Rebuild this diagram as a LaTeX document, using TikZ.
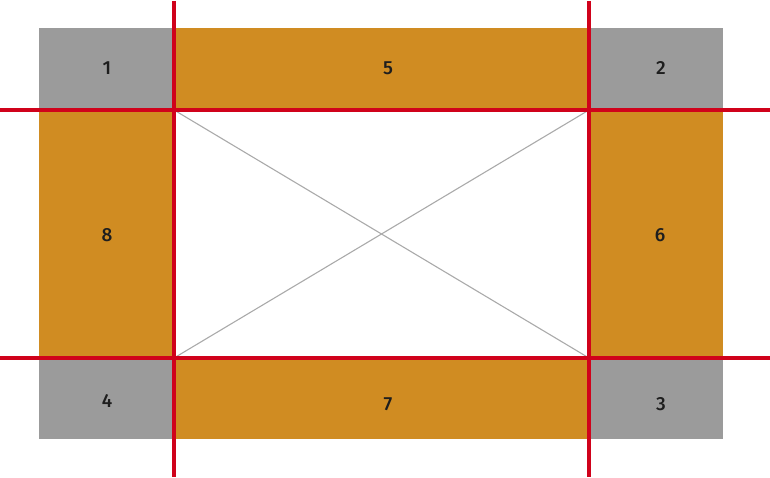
\documentclass[tikz,border=0pt]{standalone}
\usepackage{fontspec}
\setmainfont{Fira Sans}[UprightFont={* Medium}]
\definecolor{cgray}{HTML}{9B9B9B}
\definecolor{corange}{HTML}{D08C22}
\definecolor{cred}{HTML}{D0021B}
\definecolor{cdiag}{HTML}{AAAAAA}
\definecolor{ctext}{HTML}{1E1E1E}
\begin{document}
\begin{tikzpicture}[x=1pt,y=-1pt,
  cell/.style={draw=none,inner sep=0pt,outer sep=0pt,font=\fontsize{19}{19}\selectfont,text=ctext},
  corner/.style={cell,fill=cgray},
  side/.style={cell,fill=corange},
  redline/.style={draw=cred,line width=3.4pt},
  diag/.style={draw=cdiag,line width=1.1pt}]
\useasboundingbox (0,0) rectangle (770,478);
% cells
\path[corner] (38.5,28.5) rectangle (174,110);
\path[side] (174,28.5) rectangle (589,110);
\path[corner] (589,28.5) rectangle (723,110);
\path[side] (38.5,110) rectangle (174,358);
\path[side] (589,110) rectangle (723,358);
\path[corner] (38.5,358) rectangle (174,439);
\path[side] (174,358) rectangle (589,439);
\path[corner] (589,358) rectangle (723,439);
% labels
\node[cell] (n1) at (107,68) {1};
\node[cell] (n5) at (388,68) {5};
\node[cell] (n2) at (661,68) {2};
\node[cell] (n8) at (107,235) {8};
\node[cell] (n6) at (660,235) {6};
\node[cell] (n4) at (107,401) {4};
\node[cell] (n7) at (388,404) {7};
\node[cell] (n3) at (661,404) {3};
% inner corners
\coordinate (tl) at (174,110);
\coordinate (tr) at (589,110);
\coordinate (bl) at (174,358);
\coordinate (br) at (589,358);
\draw[diag] (tl) -- (br);
\draw[diag] (tr) -- (bl);
% red guide lines
\coordinate (v1t) at (174,1);
\coordinate (v1b) at (174,477);
\coordinate (v2t) at (589,1);
\coordinate (v2b) at (589,477);
\coordinate (h1l) at (0,110);
\coordinate (h1r) at (770,110);
\coordinate (h2l) at (0,358);
\coordinate (h2r) at (770,358);
\draw[redline] (v1t) -- (v1b);
\draw[redline] (v2t) -- (v2b);
\draw[redline] (h1l) -- (h1r);
\draw[redline] (h2l) -- (h2r);
\end{tikzpicture}
\end{document}
